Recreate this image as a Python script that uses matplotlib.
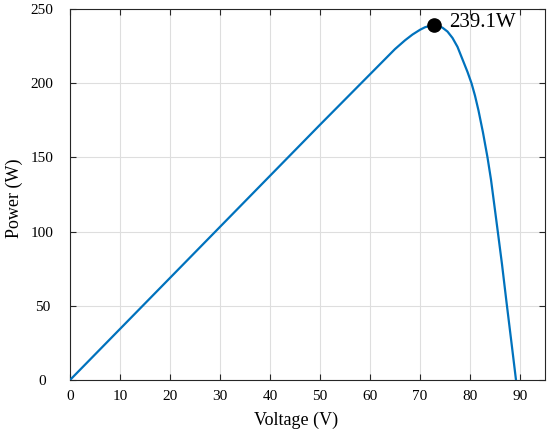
import numpy as np
import matplotlib
matplotlib.use('Agg')
import matplotlib.pyplot as plt

plt.rcParams['font.family'] = ['Liberation Serif', 'DejaVu Serif']
plt.rcParams['mathtext.fontset'] = 'stix'

# P-V curve
voltage = [0, 10, 20, 30, 40, 50, 60, 63, 65, 67, 68.5, 70, 71, 72, 72.8,
           73.5, 74.5, 75.5, 76.5, 77.5, 78.6, 79.5, 80.3, 81, 81.7, 82.6,
           83.5, 84.2, 84.9, 85.5, 86.4, 87.3, 88.3, 89.2]
power = [0, 34.4, 68.8, 103.2, 137.6, 172, 206, 216.2, 223, 228.9, 232.8,
         236, 237.7, 238.7, 239.1, 238.8, 237.4, 234.8, 230.5, 224.5, 215.2,
         207.6, 200, 191.6, 181.6, 166.7, 150, 135, 117, 101.5, 78, 52.5, 25, 0]
v_mpp = 72.8
p_mpp = 239.1

xticks = [0, 10, 20, 30, 40, 50, 60, 70, 80, 90]
yticks = [0, 50, 100, 150, 200, 250]

fig = plt.figure(figsize=(5.5, 4.33), dpi=100)
ax = fig.add_axes([0.1273, 0.1224, 0.8636, 0.8568])

ax.plot(voltage, power, color='#0072BD', lw=1.6, zorder=3,
        solid_joinstyle='round')
ax.plot(v_mpp, p_mpp, 'o', color='k', ms=9.5, zorder=4)
ax.text(v_mpp + 3.0, p_mpp + 1.5, '%.1fW' % p_mpp, fontsize=15, va='center', ha='left')

ax.set_xlim(0, 95)
ax.set_ylim(0, 250)
ax.set_xticks(xticks)
ax.set_yticks(yticks)
ax.grid(True, color='#dedede', lw=0.8)
ax.set_axisbelow(True)

for s in ax.spines.values():
    s.set_color('#262626')
    s.set_linewidth(0.8)
ax.tick_params(direction='in', top=True, right=True, length=4, width=0.8,
               color='#262626', labelsize=11)
ax.tick_params(axis='y', pad=20)
ax.tick_params(axis='x', pad=7)
for lab in ax.get_yticklabels():
    lab.set_horizontalalignment('center')

ax.set_xlabel('Voltage (V)', fontsize=13)
ax.set_ylabel('Power (W)', fontsize=13)
ax.xaxis.set_label_coords(0.476, -0.085)
ax.yaxis.set_label_coords(-0.100, 0.49)

fig.savefig('out.png', dpi=100)
